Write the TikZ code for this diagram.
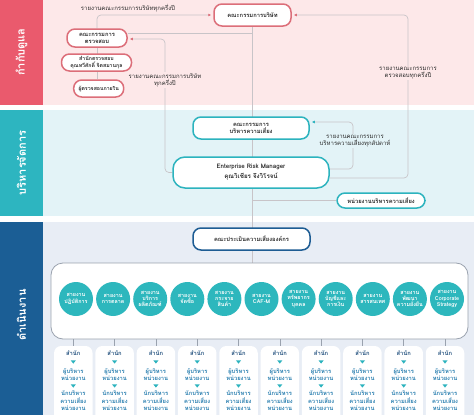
\documentclass[tikz,border=0pt]{standalone}
\usepackage{fontspec}
\setmainfont{Loma}[Script=Thai]
\usetikzlibrary{arrows.meta,calc}
\pgfdeclarelayer{bands}
\pgfdeclarelayer{links}
\pgfsetlayers{bands,links,main}
\definecolor{pinkstrip}{HTML}{EA5A6D}
\definecolor{pinkbg}{HTML}{FDE8E9}
\definecolor{pinkline}{HTML}{DC6E79}
\definecolor{tealstrip}{HTML}{2DB5C0}
\definecolor{tealbg}{HTML}{E3F3F7}
\definecolor{tealline}{HTML}{2CB3BE}
\definecolor{bluestrip}{HTML}{1B5E95}
\definecolor{bluebg}{HTML}{E8EDF5}
\definecolor{blueline}{HTML}{1D5C93}
\definecolor{conn}{HTML}{C8C4C8}
\definecolor{txt}{HTML}{2B2B2B}
\definecolor{unittxt}{HTML}{2A7FB0}
\definecolor{unitdark}{HTML}{24527F}
\definecolor{circ}{HTML}{2DB7BD}
\definecolor{frame}{HTML}{9AA2AE}
\begin{document}
\begin{tikzpicture}[x=1pt,y=-1pt,
  font=\fontsize{6}{7.2}\selectfont,
  boxbase/.style={fill=white, line width=1.5pt, rounded corners=8pt, align=center, inner sep=0pt, text=txt, font=\fontsize{5.8}{7}\selectfont\bfseries},
  pinkbox/.style={boxbase, draw=pinkline},
  tealbox/.style={boxbase, draw=tealline},
  bluebox/.style={boxbase, draw=blueline},
  link/.style={draw=conn, line width=0.7pt, rounded corners=4pt},
  pinkarrow/.style={-{Latex[length=3pt,width=3pt,color=pinkline]}, shorten >=2pt},
  tealarrow/.style={-{Latex[length=3pt,width=3pt,color=tealline]}, shorten >=2pt},
  linklabel/.style={align=center, inner sep=1pt, text=txt},
  stripname/.style={rotate=90, text=white, font=\fontsize{11}{13}\selectfont\bfseries},
  division/.style={circle, fill=circ, minimum size=34pt, inner sep=0pt, align=center, text=white, font=\fontsize{5.4}{6.2}\selectfont\bfseries},
  container/.style={draw=frame, fill=white, line width=0.8pt, rounded corners=12pt, minimum width=417pt, minimum height=76pt, inner sep=0pt},
  unitbox/.style={fill=white, rounded corners=7pt, minimum width=38.5pt, minimum height=80pt, inner sep=0pt},
  unittext/.style={align=center, text=unittxt, inner sep=0pt, font=\fontsize{5.8}{7.4}\selectfont\bfseries},
  tick/.style={draw=frame, line width=0.6pt},
]
\useasboundingbox (0,0) rectangle (474,415);
\begin{pgfonlayer}{bands}
  \fill[white] (0,0) rectangle (474,415);
  \fill[pinkbg] (43,0) rectangle (474,104.5);
  \fill[pinkstrip] (0,0) rectangle (43,104.5);
  \fill[tealbg] (43,110) rectangle (474,216);
  \fill[tealstrip] (0,110) rectangle (43,216);
  \fill[bluebg] (43,222) rectangle (474,415);
  \fill[bluestrip] (0,222) rectangle (43,415);
\end{pgfonlayer}

\node[stripname] (n1) at (21.5,52) {กำกับดูแล};
\node[stripname] (n2) at (21.5,163) {บริหารจัดการ};
\node[stripname] (n3) at (21.5,315) {ดำเนินงาน};

% governance
\node[pinkbox, minimum width=77pt, minimum height=22pt] (board) at (252.5,15) {คณะกรรมการบริษัท};
\node[pinkbox, minimum width=60pt, minimum height=18pt] (audit) at (97,38) {คณะกรรมการ\\ตรวจสอบ};
\node[pinkbox, minimum width=70pt, minimum height=17pt, font=\fontsize{5.2}{6.4}\selectfont\bfseries] (auditoff) at (96.5,62.5) {สำนักตรวจสอบ\\คุณทวีศักดิ์ จิตสมานกุล};
\node[pinkbox, minimum width=50pt, minimum height=17pt, font=\fontsize{5.2}{6.4}\selectfont\bfseries] (internal) at (98.7,88.5) {ผู้ตรวจสอบภายใน};

% management
\node[tealbox, minimum width=116pt, minimum height=22pt] (risk) at (251,128) {คณะกรรมการ\\บริหารความเสี่ยง};
\node[tealbox, minimum width=156pt, minimum height=31pt, rounded corners=12pt, font=\fontsize{6.2}{7.4}\selectfont\bfseries] (erm) at (251,172.5) {Enterprise Risk Manager\\[2.5pt]คุณวิเชียร จึงวิโรจน์};
\node[tealbox, minimum width=88pt, minimum height=15pt] (riskunit) at (381,200.5) {หน่วยงานบริหารความเสี่ยง};

% operations
\node[bluebox, minimum width=117pt, minimum height=22pt] (assess) at (251.5,239) {คณะประเมินความเสี่ยงองค์กร};
\node[container] (cont) at (259.5,301) {};

% labels on links
\node[linklabel, fill=pinkbg] (lab1) at (128,8) {รายงานคณะกรรมการบริษัททุกครึ่งปี};
\node[linklabel, fill=pinkbg] (lab2) at (165,80) {รายงานคณะกรรมการบริษัท\\ทุกครึ่งปี};
\node[linklabel, fill=pinkbg] (lab3) at (408,73) {รายงานคณะกรรมการ\\ตรวจสอบทุกครึ่งปี};
\node[linklabel, fill=tealbg] (lab4) at (355,141) {รายงานคณะกรรมการ\\บริหารความเสี่ยงทุกสัปดาห์};

\coordinate (j1) at (252.5,33);
\coordinate (c1) at (165,39);
\coordinate (c2) at (408,178);
\coordinate (c3) at (353,169);
\coordinate (c4) at (353,122);
\coordinate (j2) at (252.5,200.5);

\begin{pgfonlayer}{links}
  \draw[link, pinkarrow] (audit.north) |- (board.west);
  \draw[link] (board.south) -- (board.south |- cont.north);
  \draw[link] (j1 -| audit.east) -- (j1);
  \draw[link, pinkarrow] (erm.west) -| (c1) -- (c1 -| audit.east);
  \draw[link, pinkarrow] (c2 -| erm.east) -- (c2) |- (board.east);
  \draw[link, tealarrow] (c3 -| erm.east) -- (c3) -- (c4) -- (c4 -| risk.east);
  \draw[link] (j2) -- (riskunit.west);
  \draw[link] (audit.south) -- (audit.south |- internal.north);
\end{pgfonlayer}

% divisions
\foreach \t [count=\i from 0] in {{สายงาน\\ปฏิบัติการ},{สายงาน\\การตลาด},{สายงาน\\บริการ\\ผลิตภัณฑ์},{สายงาน\\จัดซื้อ},{สายงาน\\กระจาย\\สินค้า},{สายงาน\\CAF-M},{สายงาน\\ทรัพยากร\\บุคคล},{สายงาน\\บัญชีและ\\การเงิน},{สายงาน\\สารสนเทศ},{สายงาน\\พัฒนา\\ความยั่งยืน},{สายงาน\\Corporate\\Strategy}}{
  \node[division] (d\i) at ({76+37.1*\i},299) {\t};
}

% units
\foreach \i in {0,...,9}{
  \pgfmathsetmacro{\cx}{73.3+41.3*\i}
  \node[unitbox] (u\i) at (\cx,386) {};
  \draw[tick] (u\i.north) -- (u\i.north |- cont.south);
  \node[unittext, text=unitdark] (s\i) at (\cx,353) {สำนัก};
  \fill[tealline] (\cx-2.6,360.3) -- (\cx+2.6,360.3) -- (\cx,363.6) -- cycle;
  \node[unittext] (m\i) at (\cx,374.5) {ผู้บริหาร\\หน่วยงาน};
  \fill[tealline] (\cx-2.6,384.3) -- (\cx+2.6,384.3) -- (\cx,387.6) -- cycle;
  \node[unittext] (r\i) at (\cx,401) {นักบริหาร\\ความเสี่ยง\\หน่วยงาน};
}
\end{tikzpicture}
\end{document}
